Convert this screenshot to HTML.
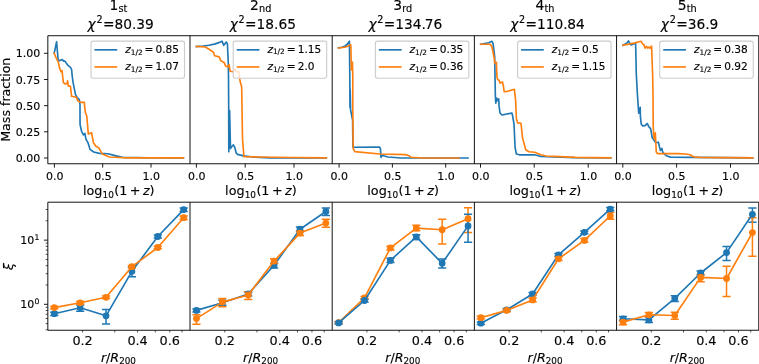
<!DOCTYPE html>
<html><head><meta charset="utf-8"><title>Mass fraction and correlation panels</title>
<style>html,body{margin:0;padding:0;background:#fff}svg{display:block}text{stroke:#000;stroke-width:.14px;paint-order:stroke}</style></head>
<body>
<svg width="759" height="364" viewBox="0 0 759 364" font-family="'DejaVu Sans', 'Liberation Sans', sans-serif" stroke-linejoin="round">
<rect width="759" height="364" fill="#fff"/>
<clipPath id="ct0"><rect x="47.83" y="35.73" width="142.19" height="128.03"/></clipPath>
<g clip-path="url(#ct0)">
<path d="M54.20 53.30 L56.60 41.70 L58.10 59.60 L59.50 60.70 L62.30 59.60 L63.40 61.10 L65.00 61.10 L66.10 62.90 L68.30 65.70 L70.50 67.30 L71.60 69.50 L72.20 76.00 L73.10 82.60 L75.50 94.70 L77.10 97.40 L79.30 99.60 L80.00 104.60 L80.00 116.00 L80.10 124.90 L81.60 131.30 L83.40 134.90 L84.90 133.40 L85.90 139.10 L88.00 142.70 L90.10 149.40 L93.70 152.00 L99.40 153.40 L108.00 153.70 L115.10 155.60 L122.30 157.40 L148.00 157.80 L183.40 157.90" fill="none" stroke="#1f77b4" stroke-width="1.65" stroke-linejoin="round" stroke-linecap="square" />
<path d="M54.20 53.30 L56.20 58.00 L58.40 62.40 L59.50 67.90 L61.00 71.70 L62.10 70.60 L62.60 76.00 L63.40 82.60 L65.00 83.90 L66.90 83.70 L67.60 80.90 L68.30 85.90 L70.50 86.40 L71.60 96.30 L76.60 97.40 L77.70 100.70 L81.00 102.40 L84.30 102.40 L85.30 112.20 L86.80 116.20 L88.30 134.10 L91.60 132.70 L93.40 142.70 L95.90 146.30 L98.70 147.70 L102.30 154.10 L109.40 157.00 L125.00 157.80 L183.40 157.90" fill="none" stroke="#ff7f0e" stroke-width="1.65" stroke-linejoin="round" stroke-linecap="square" />
</g>
<path d="M54.40 163.76 v3.85" stroke="#000" stroke-width="0.90"/>
<path d="M102.70 163.76 v3.85" stroke="#000" stroke-width="0.90"/>
<path d="M151.00 163.76 v3.85" stroke="#000" stroke-width="0.90"/>
<text x="54.65" y="179.60" font-size="11.00" text-anchor="middle">0.0</text>
<text x="102.95" y="179.60" font-size="11.00" text-anchor="middle">0.5</text>
<text x="151.25" y="179.60" font-size="11.00" text-anchor="middle">1.0</text>
<rect x="91.01" y="41.10" width="93.50" height="37.20" rx="2.2" fill="#fff" fill-opacity="0.8" stroke="#ccc" stroke-width="1.1"/>
<path d="M95.31 49.85 H116.41" stroke="#1f77b4" stroke-width="1.65" stroke-linecap="square"/>
<text transform="translate(125.21 53.60)" fill="#000"><tspan x="0.00" y="-0.83" style="font-size:10.55px;font-style:italic">z</tspan><tspan x="5.51" y="0.98" style="font-size:7.38px">1/2</tspan><tspan x="19.42" y="-0.83" style="font-size:10.55px">=</tspan><tspan x="30.27" y="-0.83" style="font-size:10.55px">0.85</tspan></text>
<path d="M95.31 66.95 H116.41" stroke="#ff7f0e" stroke-width="1.65" stroke-linecap="square"/>
<text transform="translate(125.21 70.70)" fill="#000"><tspan x="0.00" y="-0.83" style="font-size:10.55px;font-style:italic">z</tspan><tspan x="5.51" y="0.98" style="font-size:7.38px">1/2</tspan><tspan x="19.42" y="-0.83" style="font-size:10.55px">=</tspan><tspan x="30.27" y="-0.83" style="font-size:10.55px">1.07</tspan></text>
<text transform="translate(118.92 10.70)" fill="#000"><tspan x="-9.50" y="-0.80" style="font-size:13.90px">1</tspan><tspan x="-0.54" y="1.50" style="font-size:9.73px">st</tspan></text>
<text transform="translate(121.12 29.00)" fill="#000"><tspan x="-33.50" y="-0.37" style="font-size:13.75px;font-style:italic">χ</tspan><tspan x="-24.74" y="-5.73" style="font-size:9.62px">2</tspan><tspan x="-18.23" y="-0.37" style="font-size:13.75px">=80.39</tspan></text>
<text transform="translate(118.92 195.50)" fill="#000"><tspan x="-36.00" y="-0.12" style="font-size:12.75px">log</tspan><tspan x="-16.44" y="2.01" style="font-size:8.92px">10</tspan><tspan x="-4.73" y="-0.12" style="font-size:12.75px">(1</tspan><tspan x="10.84" y="-0.12" style="font-size:12.75px">+</tspan><tspan x="24.01" y="-0.12" style="font-size:12.75px;font-style:italic">z</tspan><tspan x="30.70" y="-0.12" style="font-size:12.75px">)</tspan></text>
<clipPath id="ct1"><rect x="190.01" y="35.73" width="142.19" height="128.03"/></clipPath>
<g clip-path="url(#ct1)">
<path d="M196.40 46.50 L203.00 46.00 L209.00 45.20 L215.30 43.90 L219.50 42.40 L222.00 41.20 L223.80 45.30 L226.30 42.00 L227.40 43.70 L228.20 61.30 L228.50 76.00 L228.70 110.70 L228.80 151.80 L229.60 110.50 L230.50 148.60 L231.80 146.50 L233.40 144.90 L234.80 147.50 L236.20 153.00 L237.50 154.40 L243.50 155.90 L255.00 157.30 L270.00 157.90 L290.00 158.00 L326.30 158.00" fill="none" stroke="#1f77b4" stroke-width="1.65" stroke-linejoin="round" stroke-linecap="square" />
<path d="M196.40 46.40 L205.40 47.00 L209.80 49.70 L213.60 52.50 L214.70 55.80 L219.10 56.90 L220.80 60.70 L224.10 62.40 L225.70 66.20 L227.90 66.80 L229.00 64.60 L230.10 71.20 L233.40 71.70 L235.00 69.00 L236.20 71.70 L238.90 71.70 L239.40 76.00 L239.90 80.50 L241.70 87.10 L242.00 108.00 L242.50 138.80 L243.90 156.60 L260.00 157.00 L290.00 157.50 L326.30 157.90" fill="none" stroke="#ff7f0e" stroke-width="1.65" stroke-linejoin="round" stroke-linecap="square" />
</g>
<path d="M196.40 163.76 v3.85" stroke="#000" stroke-width="0.90"/>
<path d="M245.20 163.76 v3.85" stroke="#000" stroke-width="0.90"/>
<path d="M294.00 163.76 v3.85" stroke="#000" stroke-width="0.90"/>
<text x="196.65" y="179.60" font-size="11.00" text-anchor="middle">0.0</text>
<text x="245.45" y="179.60" font-size="11.00" text-anchor="middle">0.5</text>
<text x="294.25" y="179.60" font-size="11.00" text-anchor="middle">1.0</text>
<rect x="233.20" y="41.10" width="93.50" height="37.20" rx="2.2" fill="#fff" fill-opacity="0.8" stroke="#ccc" stroke-width="1.1"/>
<path d="M237.50 49.85 H258.60" stroke="#1f77b4" stroke-width="1.65" stroke-linecap="square"/>
<text transform="translate(267.40 53.60)" fill="#000"><tspan x="0.00" y="-0.98" style="font-size:10.55px;font-style:italic">z</tspan><tspan x="5.51" y="0.82" style="font-size:7.38px">1/2</tspan><tspan x="19.42" y="-0.98" style="font-size:10.55px">=</tspan><tspan x="30.27" y="-0.98" style="font-size:10.55px">1.15</tspan></text>
<path d="M237.50 66.95 H258.60" stroke="#ff7f0e" stroke-width="1.65" stroke-linecap="square"/>
<text transform="translate(267.40 70.70)" fill="#000"><tspan x="0.00" y="-0.83" style="font-size:10.55px;font-style:italic">z</tspan><tspan x="5.51" y="0.98" style="font-size:7.38px">1/2</tspan><tspan x="19.42" y="-0.83" style="font-size:10.55px">=</tspan><tspan x="30.27" y="-0.83" style="font-size:10.55px">2.0</tspan></text>
<text transform="translate(261.11 10.70)" fill="#000"><tspan x="-11.00" y="-0.61" style="font-size:13.90px">2</tspan><tspan x="-2.04" y="1.69" style="font-size:9.73px">nd</tspan></text>
<text transform="translate(263.31 29.00)" fill="#000"><tspan x="-33.50" y="-0.37" style="font-size:13.75px;font-style:italic">χ</tspan><tspan x="-24.74" y="-5.73" style="font-size:9.62px">2</tspan><tspan x="-18.23" y="-0.37" style="font-size:13.75px">=18.65</tspan></text>
<text transform="translate(261.11 195.50)" fill="#000"><tspan x="-36.00" y="-0.12" style="font-size:12.75px">log</tspan><tspan x="-16.44" y="2.01" style="font-size:8.92px">10</tspan><tspan x="-4.73" y="-0.12" style="font-size:12.75px">(1</tspan><tspan x="10.84" y="-0.12" style="font-size:12.75px">+</tspan><tspan x="24.01" y="-0.12" style="font-size:12.75px;font-style:italic">z</tspan><tspan x="30.70" y="-0.12" style="font-size:12.75px">)</tspan></text>
<clipPath id="ct2"><rect x="332.20" y="35.73" width="142.19" height="128.03"/></clipPath>
<g clip-path="url(#ct2)">
<path d="M338.50 47.90 L342.00 47.20 L345.00 46.00 L347.50 44.00 L349.40 41.20 L349.80 76.00 L350.00 107.40 L350.20 90.00 L350.60 110.00 L352.60 120.00 L352.90 147.20 L379.40 147.00 L380.40 148.50 L381.00 157.40 L382.80 154.80 L383.40 155.80 L388.00 157.00 L400.90 158.00 L468.00 158.00" fill="none" stroke="#1f77b4" stroke-width="1.65" stroke-linejoin="round" stroke-linecap="square" />
<path d="M338.50 48.10 L345.90 47.00 L350.80 44.80 L351.40 70.00 L352.40 62.00 L352.80 76.00 L352.80 110.00 L353.20 148.50 L354.80 151.60 L380.00 154.00 L405.50 154.60 L409.20 155.80 L411.00 157.30 L423.00 158.00 L459.00 158.00" fill="none" stroke="#ff7f0e" stroke-width="1.65" stroke-linejoin="round" stroke-linecap="square" />
</g>
<path d="M339.10 163.76 v3.85" stroke="#000" stroke-width="0.90"/>
<path d="M392.40 163.76 v3.85" stroke="#000" stroke-width="0.90"/>
<path d="M445.70 163.76 v3.85" stroke="#000" stroke-width="0.90"/>
<text x="339.35" y="179.60" font-size="11.00" text-anchor="middle">0.0</text>
<text x="392.65" y="179.60" font-size="11.00" text-anchor="middle">0.5</text>
<text x="445.95" y="179.60" font-size="11.00" text-anchor="middle">1.0</text>
<rect x="375.38" y="41.10" width="93.50" height="37.20" rx="2.2" fill="#fff" fill-opacity="0.8" stroke="#ccc" stroke-width="1.1"/>
<path d="M379.69 49.85 H400.79" stroke="#1f77b4" stroke-width="1.65" stroke-linecap="square"/>
<text transform="translate(409.58 53.60)" fill="#000"><tspan x="0.00" y="-0.83" style="font-size:10.55px;font-style:italic">z</tspan><tspan x="5.51" y="0.98" style="font-size:7.38px">1/2</tspan><tspan x="19.42" y="-0.83" style="font-size:10.55px">=</tspan><tspan x="30.27" y="-0.83" style="font-size:10.55px">0.35</tspan></text>
<path d="M379.69 66.95 H400.79" stroke="#ff7f0e" stroke-width="1.65" stroke-linecap="square"/>
<text transform="translate(409.58 70.70)" fill="#000"><tspan x="0.00" y="-0.83" style="font-size:10.55px;font-style:italic">z</tspan><tspan x="5.51" y="0.98" style="font-size:7.38px">1/2</tspan><tspan x="19.42" y="-0.83" style="font-size:10.55px">=</tspan><tspan x="30.27" y="-0.83" style="font-size:10.55px">0.36</tspan></text>
<text transform="translate(403.29 10.70)" fill="#000"><tspan x="-10.00" y="-0.61" style="font-size:13.90px">3</tspan><tspan x="-1.04" y="1.69" style="font-size:9.73px">rd</tspan></text>
<text transform="translate(405.49 29.00)" fill="#000"><tspan x="-37.00" y="-0.37" style="font-size:13.75px;font-style:italic">χ</tspan><tspan x="-28.24" y="-5.73" style="font-size:9.62px">2</tspan><tspan x="-21.73" y="-0.37" style="font-size:13.75px">=134.</tspan><tspan x="19.28" y="-0.37" style="font-size:13.75px">76</tspan></text>
<text transform="translate(403.29 195.50)" fill="#000"><tspan x="-36.00" y="-0.12" style="font-size:12.75px">log</tspan><tspan x="-16.44" y="2.01" style="font-size:8.92px">10</tspan><tspan x="-4.73" y="-0.12" style="font-size:12.75px">(1</tspan><tspan x="10.84" y="-0.12" style="font-size:12.75px">+</tspan><tspan x="24.01" y="-0.12" style="font-size:12.75px;font-style:italic">z</tspan><tspan x="30.70" y="-0.12" style="font-size:12.75px">)</tspan></text>
<clipPath id="ct3"><rect x="474.38" y="35.73" width="142.19" height="128.03"/></clipPath>
<g clip-path="url(#ct3)">
<path d="M480.70 44.20 L488.70 42.80 L492.00 41.30 L493.10 43.70 L494.70 56.90 L495.00 76.00 L495.40 96.70 L495.80 103.10 L496.70 98.10 L497.50 100.60 L498.70 98.90 L499.10 106.40 L500.00 113.00 L502.00 115.00 L511.90 113.00 L512.70 116.30 L514.00 124.00 L515.10 147.70 L516.40 154.00 L519.40 154.80 L534.60 154.80 L540.90 156.50 L554.00 156.90 L575.00 157.60 L610.70 157.90" fill="none" stroke="#1f77b4" stroke-width="1.65" stroke-linejoin="round" stroke-linecap="square" />
<path d="M480.70 44.20 L490.30 44.20 L492.00 47.00 L494.20 58.00 L494.70 62.90 L496.40 62.40 L496.90 76.00 L497.50 79.40 L499.10 80.20 L500.00 83.10 L502.40 81.90 L503.30 85.20 L504.10 91.40 L505.70 91.80 L514.40 89.30 L515.20 96.70 L515.60 99.80 L516.40 118.70 L517.70 122.90 L521.00 123.30 L522.50 137.60 L525.70 149.70 L529.00 151.70 L534.60 152.30 L540.90 154.80 L545.90 156.00 L554.00 156.40 L575.00 157.40 L610.70 157.90" fill="none" stroke="#ff7f0e" stroke-width="1.65" stroke-linejoin="round" stroke-linecap="square" />
</g>
<path d="M480.50 163.76 v3.85" stroke="#000" stroke-width="0.90"/>
<path d="M534.20 163.76 v3.85" stroke="#000" stroke-width="0.90"/>
<path d="M588.20 163.76 v3.85" stroke="#000" stroke-width="0.90"/>
<text x="480.75" y="179.60" font-size="11.00" text-anchor="middle">0.0</text>
<text x="534.45" y="179.60" font-size="11.00" text-anchor="middle">0.5</text>
<text x="588.45" y="179.60" font-size="11.00" text-anchor="middle">1.0</text>
<rect x="517.57" y="41.10" width="93.50" height="37.20" rx="2.2" fill="#fff" fill-opacity="0.8" stroke="#ccc" stroke-width="1.1"/>
<path d="M521.87 49.85 H542.97" stroke="#1f77b4" stroke-width="1.65" stroke-linecap="square"/>
<text transform="translate(551.77 53.60)" fill="#000"><tspan x="0.00" y="-0.83" style="font-size:10.55px;font-style:italic">z</tspan><tspan x="5.51" y="0.98" style="font-size:7.38px">1/2</tspan><tspan x="19.42" y="-0.83" style="font-size:10.55px">=</tspan><tspan x="30.27" y="-0.83" style="font-size:10.55px">0.5</tspan></text>
<path d="M521.87 66.95 H542.97" stroke="#ff7f0e" stroke-width="1.65" stroke-linecap="square"/>
<text transform="translate(551.77 70.70)" fill="#000"><tspan x="0.00" y="-0.98" style="font-size:10.55px;font-style:italic">z</tspan><tspan x="5.51" y="0.82" style="font-size:7.38px">1/2</tspan><tspan x="19.42" y="-0.98" style="font-size:10.55px">=</tspan><tspan x="30.27" y="-0.98" style="font-size:10.55px">1.15</tspan></text>
<text transform="translate(545.48 10.70)" fill="#000"><tspan x="-10.00" y="-0.80" style="font-size:13.90px">4</tspan><tspan x="-1.04" y="1.50" style="font-size:9.73px">th</tspan></text>
<text transform="translate(547.68 29.00)" fill="#000"><tspan x="-37.50" y="-0.37" style="font-size:13.75px;font-style:italic">χ</tspan><tspan x="-28.74" y="-5.73" style="font-size:9.62px">2</tspan><tspan x="-22.23" y="-0.37" style="font-size:13.75px">=110.</tspan><tspan x="19.53" y="-0.37" style="font-size:13.75px">84</tspan></text>
<text transform="translate(545.48 195.50)" fill="#000"><tspan x="-36.00" y="-0.12" style="font-size:12.75px">log</tspan><tspan x="-16.44" y="2.01" style="font-size:8.92px">10</tspan><tspan x="-4.73" y="-0.12" style="font-size:12.75px">(1</tspan><tspan x="10.84" y="-0.12" style="font-size:12.75px">+</tspan><tspan x="24.01" y="-0.12" style="font-size:12.75px;font-style:italic">z</tspan><tspan x="30.70" y="-0.12" style="font-size:12.75px">)</tspan></text>
<clipPath id="ct4"><rect x="616.57" y="35.73" width="142.18" height="128.03"/></clipPath>
<g clip-path="url(#ct4)">
<path d="M622.90 45.30 L626.80 43.10 L628.50 40.90 L630.10 44.20 L631.20 45.00 L634.00 43.70 L635.60 42.80 L636.20 69.00 L636.20 72.00 L637.20 91.00 L637.80 100.00 L638.70 113.20 L640.20 107.40 L640.40 116.50 L641.20 123.90 L642.80 126.00 L644.90 125.60 L647.40 123.50 L648.60 126.40 L650.60 128.60 L652.20 137.50 L654.30 140.60 L655.80 142.70 L658.40 142.20 L659.50 146.90 L660.50 150.50 L661.90 148.40 L662.90 152.60 L666.30 155.70 L670.40 157.10 L692.30 157.40 L752.70 157.90" fill="none" stroke="#1f77b4" stroke-width="1.65" stroke-linejoin="round" stroke-linecap="square" />
<path d="M622.90 45.30 L634.00 43.10 L641.10 41.30 L642.80 44.20 L643.90 44.60 L645.00 48.10 L646.60 46.40 L647.70 48.10 L648.80 47.00 L649.90 48.30 L651.60 46.10 L652.40 69.00 L652.70 76.00 L653.10 102.00 L653.20 126.00 L653.50 132.30 L654.30 139.00 L655.30 132.80 L655.80 142.70 L656.30 152.10 L657.40 153.60 L677.70 153.60 L685.00 154.00 L690.20 154.70 L693.40 156.80 L698.60 157.40 L752.70 157.90" fill="none" stroke="#ff7f0e" stroke-width="1.65" stroke-linejoin="round" stroke-linecap="square" />
</g>
<path d="M622.80 163.76 v3.85" stroke="#000" stroke-width="0.90"/>
<path d="M676.60 163.76 v3.85" stroke="#000" stroke-width="0.90"/>
<path d="M730.50 163.76 v3.85" stroke="#000" stroke-width="0.90"/>
<text x="623.05" y="179.60" font-size="11.00" text-anchor="middle">0.0</text>
<text x="676.85" y="179.60" font-size="11.00" text-anchor="middle">0.5</text>
<text x="730.75" y="179.60" font-size="11.00" text-anchor="middle">1.0</text>
<rect x="659.75" y="41.10" width="93.50" height="37.20" rx="2.2" fill="#fff" fill-opacity="0.8" stroke="#ccc" stroke-width="1.1"/>
<path d="M664.05 49.85 H685.15" stroke="#1f77b4" stroke-width="1.65" stroke-linecap="square"/>
<text transform="translate(693.96 53.60)" fill="#000"><tspan x="0.00" y="-0.83" style="font-size:10.55px;font-style:italic">z</tspan><tspan x="5.51" y="0.98" style="font-size:7.38px">1/2</tspan><tspan x="19.42" y="-0.83" style="font-size:10.55px">=</tspan><tspan x="30.27" y="-0.83" style="font-size:10.55px">0.38</tspan></text>
<path d="M664.05 66.95 H685.15" stroke="#ff7f0e" stroke-width="1.65" stroke-linecap="square"/>
<text transform="translate(693.96 70.70)" fill="#000"><tspan x="0.00" y="-0.83" style="font-size:10.55px;font-style:italic">z</tspan><tspan x="5.51" y="0.98" style="font-size:7.38px">1/2</tspan><tspan x="19.42" y="-0.83" style="font-size:10.55px">=</tspan><tspan x="30.27" y="-0.83" style="font-size:10.55px">0.92</tspan></text>
<text transform="translate(687.66 10.70)" fill="#000"><tspan x="-10.00" y="-0.80" style="font-size:13.90px">5</tspan><tspan x="-1.04" y="1.50" style="font-size:9.73px">th</tspan></text>
<text transform="translate(689.86 29.00)" fill="#000"><tspan x="-29.00" y="-0.37" style="font-size:13.75px;font-style:italic">χ</tspan><tspan x="-20.24" y="-5.73" style="font-size:9.62px">2</tspan><tspan x="-13.73" y="-0.37" style="font-size:13.75px">=36.9</tspan></text>
<text transform="translate(687.66 195.50)" fill="#000"><tspan x="-36.00" y="-0.12" style="font-size:12.75px">log</tspan><tspan x="-16.44" y="2.01" style="font-size:8.92px">10</tspan><tspan x="-4.73" y="-0.12" style="font-size:12.75px">(1</tspan><tspan x="10.84" y="-0.12" style="font-size:12.75px">+</tspan><tspan x="24.01" y="-0.12" style="font-size:12.75px;font-style:italic">z</tspan><tspan x="30.70" y="-0.12" style="font-size:12.75px">)</tspan></text>
<path d="M47.83 53.30 h-3.85" stroke="#000" stroke-width="0.90"/>
<text x="40.30" y="57.35" font-size="11.00" text-anchor="end">1.00</text>
<path d="M47.83 79.50 h-3.85" stroke="#000" stroke-width="0.90"/>
<text x="40.30" y="83.55" font-size="11.00" text-anchor="end">0.75</text>
<path d="M47.83 105.65 h-3.85" stroke="#000" stroke-width="0.90"/>
<text x="40.30" y="109.70" font-size="11.00" text-anchor="end">0.50</text>
<path d="M47.83 131.80 h-3.85" stroke="#000" stroke-width="0.90"/>
<text x="40.30" y="135.85" font-size="11.00" text-anchor="end">0.25</text>
<path d="M47.83 158.00 h-3.85" stroke="#000" stroke-width="0.90"/>
<text x="40.30" y="162.05" font-size="11.00" text-anchor="end">0.00</text>
<text transform="translate(9.9 99.7) rotate(-90)" font-size="12.60" text-anchor="middle">Mass fraction</text>
<clipPath id="cb0"><rect x="47.83" y="202.20" width="142.19" height="128.05"/></clipPath>
<g clip-path="url(#cb0)">
<path d="M54.28 312.20 V315.50 M50.18 312.20 h8.20 M50.18 315.50 h8.20 M80.16 305.00 V311.20 M76.06 305.00 h8.20 M76.06 311.20 h8.20 M106.04 309.40 V324.00 M101.94 309.40 h8.20 M101.94 324.00 h8.20 M131.92 267.00 V276.80 M127.82 267.00 h8.20 M127.82 276.80 h8.20 M157.80 235.00 V238.00 M153.70 235.00 h8.20 M153.70 238.00 h8.20 M183.68 208.00 V211.50 M179.58 208.00 h8.20 M179.58 211.50 h8.20 " stroke="#1f77b4" stroke-width="1.50" fill="none"/>
<path d="M54.28 306.40 V308.80 M50.18 306.40 h8.20 M50.18 308.80 h8.20 M80.16 301.60 V304.00 M76.06 301.60 h8.20 M76.06 304.00 h8.20 M106.04 296.00 V298.60 M101.94 296.00 h8.20 M101.94 298.60 h8.20 M131.92 265.40 V268.00 M127.82 265.40 h8.20 M127.82 268.00 h8.20 M157.80 246.30 V248.70 M153.70 246.30 h8.20 M153.70 248.70 h8.20 M183.68 216.00 V219.50 M179.58 216.00 h8.20 M179.58 219.50 h8.20 " stroke="#ff7f0e" stroke-width="1.50" fill="none"/>
<path d="M54.28 313.70 L80.16 307.80 L106.04 315.80 L131.92 271.30 L157.80 236.50 L183.68 209.60" fill="none" stroke="#1f77b4" stroke-width="1.65" stroke-linejoin="round"/><circle cx="54.28" cy="313.70" r="2.85" fill="#1f77b4" stroke="#1f77b4" stroke-width="1.1"/><circle cx="80.16" cy="307.80" r="2.85" fill="#1f77b4" stroke="#1f77b4" stroke-width="1.1"/><circle cx="106.04" cy="315.80" r="2.85" fill="#1f77b4" stroke="#1f77b4" stroke-width="1.1"/><circle cx="131.92" cy="271.30" r="2.85" fill="#1f77b4" stroke="#1f77b4" stroke-width="1.1"/><circle cx="157.80" cy="236.50" r="2.85" fill="#1f77b4" stroke="#1f77b4" stroke-width="1.1"/><circle cx="183.68" cy="209.60" r="2.85" fill="#1f77b4" stroke="#1f77b4" stroke-width="1.1"/>
<path d="M54.28 307.60 L80.16 302.80 L106.04 297.30 L131.92 266.70 L157.80 247.50 L183.68 217.70" fill="none" stroke="#ff7f0e" stroke-width="1.65" stroke-linejoin="round"/><circle cx="54.28" cy="307.60" r="2.85" fill="#ff7f0e" stroke="#ff7f0e" stroke-width="1.1"/><circle cx="80.16" cy="302.80" r="2.85" fill="#ff7f0e" stroke="#ff7f0e" stroke-width="1.1"/><circle cx="106.04" cy="297.30" r="2.85" fill="#ff7f0e" stroke="#ff7f0e" stroke-width="1.1"/><circle cx="131.92" cy="266.70" r="2.85" fill="#ff7f0e" stroke="#ff7f0e" stroke-width="1.1"/><circle cx="157.80" cy="247.50" r="2.85" fill="#ff7f0e" stroke="#ff7f0e" stroke-width="1.1"/><circle cx="183.68" cy="217.70" r="2.85" fill="#ff7f0e" stroke="#ff7f0e" stroke-width="1.1"/>
</g>
<path d="M82.58 330.25 v2.20" stroke="#000" stroke-width="0.68"/>
<text x="82.58" y="345.40" font-size="12.80" text-anchor="middle">0.2</text>
<path d="M114.75 330.25 v2.20" stroke="#000" stroke-width="0.68"/>
<path d="M137.58 330.25 v2.20" stroke="#000" stroke-width="0.68"/>
<text x="137.58" y="345.40" font-size="12.80" text-anchor="middle">0.4</text>
<path d="M155.28 330.25 v2.20" stroke="#000" stroke-width="0.68"/>
<path d="M169.75 330.25 v2.20" stroke="#000" stroke-width="0.68"/>
<text x="169.75" y="345.40" font-size="12.80" text-anchor="middle">0.6</text>
<path d="M181.98 330.25 v2.20" stroke="#000" stroke-width="0.68"/>
<text transform="translate(118.92 362.20)" fill="#000"><tspan x="-18.00" y="-0.52" style="font-size:12.60px;font-style:italic">r</tspan><tspan x="-12.81" y="-0.52" style="font-size:12.60px">/</tspan><tspan x="-8.56" y="-0.52" style="font-size:12.60px;font-style:italic">R</tspan><tspan x="0.22" y="1.62" style="font-size:8.82px">200</tspan></text>
<clipPath id="cb1"><rect x="190.01" y="202.20" width="142.19" height="128.05"/></clipPath>
<g clip-path="url(#cb1)">
<path d="M196.46 308.90 V311.90 M192.36 308.90 h8.20 M192.36 311.90 h8.20 M222.34 300.20 V305.20 M218.24 300.20 h8.20 M218.24 305.20 h8.20 M248.22 292.00 V296.00 M244.12 292.00 h8.20 M244.12 296.00 h8.20 M274.11 263.20 V268.00 M270.00 263.20 h8.20 M270.00 268.00 h8.20 M299.99 226.90 V231.70 M295.88 226.90 h8.20 M295.88 231.70 h8.20 M325.87 208.10 V215.40 M321.76 208.10 h8.20 M321.76 215.40 h8.20 " stroke="#1f77b4" stroke-width="1.50" fill="none"/>
<path d="M196.46 314.80 V324.30 M192.36 314.80 h8.20 M192.36 324.30 h8.20 M222.34 298.40 V306.70 M218.24 298.40 h8.20 M218.24 306.70 h8.20 M248.22 291.80 V299.50 M244.12 291.80 h8.20 M244.12 299.50 h8.20 M274.11 258.80 V263.60 M270.00 258.80 h8.20 M270.00 263.60 h8.20 M299.99 230.80 V235.60 M295.88 230.80 h8.20 M295.88 235.60 h8.20 M325.87 219.20 V227.30 M321.76 219.20 h8.20 M321.76 227.30 h8.20 " stroke="#ff7f0e" stroke-width="1.50" fill="none"/>
<path d="M196.46 310.40 L222.34 302.70 L248.22 294.00 L274.11 265.20 L299.99 229.20 L325.87 211.50" fill="none" stroke="#1f77b4" stroke-width="1.65" stroke-linejoin="round"/><circle cx="196.46" cy="310.40" r="2.85" fill="#1f77b4" stroke="#1f77b4" stroke-width="1.1"/><circle cx="222.34" cy="302.70" r="2.85" fill="#1f77b4" stroke="#1f77b4" stroke-width="1.1"/><circle cx="248.22" cy="294.00" r="2.85" fill="#1f77b4" stroke="#1f77b4" stroke-width="1.1"/><circle cx="274.11" cy="265.20" r="2.85" fill="#1f77b4" stroke="#1f77b4" stroke-width="1.1"/><circle cx="299.99" cy="229.20" r="2.85" fill="#1f77b4" stroke="#1f77b4" stroke-width="1.1"/><circle cx="325.87" cy="211.50" r="2.85" fill="#1f77b4" stroke="#1f77b4" stroke-width="1.1"/>
<path d="M196.46 318.60 L222.34 302.10 L248.22 295.00 L274.11 261.10 L299.99 233.10 L325.87 223.10" fill="none" stroke="#ff7f0e" stroke-width="1.65" stroke-linejoin="round"/><circle cx="196.46" cy="318.60" r="2.85" fill="#ff7f0e" stroke="#ff7f0e" stroke-width="1.1"/><circle cx="222.34" cy="302.10" r="2.85" fill="#ff7f0e" stroke="#ff7f0e" stroke-width="1.1"/><circle cx="248.22" cy="295.00" r="2.85" fill="#ff7f0e" stroke="#ff7f0e" stroke-width="1.1"/><circle cx="274.11" cy="261.10" r="2.85" fill="#ff7f0e" stroke="#ff7f0e" stroke-width="1.1"/><circle cx="299.99" cy="233.10" r="2.85" fill="#ff7f0e" stroke="#ff7f0e" stroke-width="1.1"/><circle cx="325.87" cy="223.10" r="2.85" fill="#ff7f0e" stroke="#ff7f0e" stroke-width="1.1"/>
</g>
<path d="M224.76 330.25 v2.20" stroke="#000" stroke-width="0.68"/>
<text x="224.76" y="345.40" font-size="12.80" text-anchor="middle">0.2</text>
<path d="M256.94 330.25 v2.20" stroke="#000" stroke-width="0.68"/>
<path d="M279.76 330.25 v2.20" stroke="#000" stroke-width="0.68"/>
<text x="279.76" y="345.40" font-size="12.80" text-anchor="middle">0.4</text>
<path d="M297.47 330.25 v2.20" stroke="#000" stroke-width="0.68"/>
<path d="M311.94 330.25 v2.20" stroke="#000" stroke-width="0.68"/>
<text x="311.94" y="345.40" font-size="12.80" text-anchor="middle">0.6</text>
<path d="M324.17 330.25 v2.20" stroke="#000" stroke-width="0.68"/>
<text transform="translate(261.11 362.20)" fill="#000"><tspan x="-18.00" y="-0.52" style="font-size:12.60px;font-style:italic">r</tspan><tspan x="-12.81" y="-0.52" style="font-size:12.60px">/</tspan><tspan x="-8.56" y="-0.52" style="font-size:12.60px;font-style:italic">R</tspan><tspan x="0.22" y="1.62" style="font-size:8.82px">200</tspan></text>
<clipPath id="cb2"><rect x="332.20" y="202.20" width="142.19" height="128.05"/></clipPath>
<g clip-path="url(#cb2)">
<path d="M338.65 321.60 V323.60 M334.55 321.60 h8.20 M334.55 323.60 h8.20 M364.53 296.60 V299.20 M360.43 296.60 h8.20 M360.43 299.20 h8.20 M390.41 246.20 V250.10 M386.31 246.20 h8.20 M386.31 250.10 h8.20 M416.29 225.30 V230.80 M412.19 225.30 h8.20 M412.19 230.80 h8.20 M442.17 219.30 V244.00 M438.07 219.30 h8.20 M438.07 244.00 h8.20 M468.05 207.70 V232.50 M463.95 207.70 h8.20 M463.95 232.50 h8.20 " stroke="#ff7f0e" stroke-width="1.50" fill="none"/>
<path d="M338.65 321.80 V324.00 M334.55 321.80 h8.20 M334.55 324.00 h8.20 M364.53 299.00 V302.00 M360.43 299.00 h8.20 M360.43 302.00 h8.20 M390.41 258.20 V262.60 M386.31 258.20 h8.20 M386.31 262.60 h8.20 M416.29 234.70 V239.60 M412.19 234.70 h8.20 M412.19 239.60 h8.20 M442.17 258.90 V268.10 M438.07 258.90 h8.20 M438.07 268.10 h8.20 M468.05 214.30 V242.20 M463.95 214.30 h8.20 M463.95 242.20 h8.20 " stroke="#1f77b4" stroke-width="1.50" fill="none"/>
<path d="M338.65 322.60 L364.53 297.90 L390.41 247.90 L416.29 228.10 L442.17 229.70 L468.05 218.70" fill="none" stroke="#ff7f0e" stroke-width="1.65" stroke-linejoin="round"/><circle cx="338.65" cy="322.60" r="2.85" fill="#ff7f0e" stroke="#ff7f0e" stroke-width="1.1"/><circle cx="364.53" cy="297.90" r="2.85" fill="#ff7f0e" stroke="#ff7f0e" stroke-width="1.1"/><circle cx="390.41" cy="247.90" r="2.85" fill="#ff7f0e" stroke="#ff7f0e" stroke-width="1.1"/><circle cx="416.29" cy="228.10" r="2.85" fill="#ff7f0e" stroke="#ff7f0e" stroke-width="1.1"/><circle cx="442.17" cy="229.70" r="2.85" fill="#ff7f0e" stroke="#ff7f0e" stroke-width="1.1"/><circle cx="468.05" cy="218.70" r="2.85" fill="#ff7f0e" stroke="#ff7f0e" stroke-width="1.1"/>
<path d="M338.65 322.90 L364.53 300.50 L390.41 260.40 L416.29 236.90 L442.17 263.30 L468.05 225.90" fill="none" stroke="#1f77b4" stroke-width="1.65" stroke-linejoin="round"/><circle cx="338.65" cy="322.90" r="2.85" fill="#1f77b4" stroke="#1f77b4" stroke-width="1.1"/><circle cx="364.53" cy="300.50" r="2.85" fill="#1f77b4" stroke="#1f77b4" stroke-width="1.1"/><circle cx="390.41" cy="260.40" r="2.85" fill="#1f77b4" stroke="#1f77b4" stroke-width="1.1"/><circle cx="416.29" cy="236.90" r="2.85" fill="#1f77b4" stroke="#1f77b4" stroke-width="1.1"/><circle cx="442.17" cy="263.30" r="2.85" fill="#1f77b4" stroke="#1f77b4" stroke-width="1.1"/><circle cx="468.05" cy="225.90" r="2.85" fill="#1f77b4" stroke="#1f77b4" stroke-width="1.1"/>
</g>
<path d="M366.95 330.25 v2.20" stroke="#000" stroke-width="0.68"/>
<text x="366.95" y="345.40" font-size="12.80" text-anchor="middle">0.2</text>
<path d="M399.12 330.25 v2.20" stroke="#000" stroke-width="0.68"/>
<path d="M421.95 330.25 v2.20" stroke="#000" stroke-width="0.68"/>
<text x="421.95" y="345.40" font-size="12.80" text-anchor="middle">0.4</text>
<path d="M439.65 330.25 v2.20" stroke="#000" stroke-width="0.68"/>
<path d="M454.12 330.25 v2.20" stroke="#000" stroke-width="0.68"/>
<text x="454.12" y="345.40" font-size="12.80" text-anchor="middle">0.6</text>
<path d="M466.35 330.25 v2.20" stroke="#000" stroke-width="0.68"/>
<text transform="translate(403.29 362.20)" fill="#000"><tspan x="-18.00" y="-0.52" style="font-size:12.60px;font-style:italic">r</tspan><tspan x="-12.81" y="-0.52" style="font-size:12.60px">/</tspan><tspan x="-8.56" y="-0.52" style="font-size:12.60px;font-style:italic">R</tspan><tspan x="0.22" y="1.62" style="font-size:8.82px">200</tspan></text>
<clipPath id="cb3"><rect x="474.38" y="202.20" width="142.19" height="128.05"/></clipPath>
<g clip-path="url(#cb3)">
<path d="M480.83 322.00 V324.40 M476.73 322.00 h8.20 M476.73 324.40 h8.20 M506.71 308.60 V311.00 M502.61 308.60 h8.20 M502.61 311.00 h8.20 M532.60 292.60 V295.40 M528.50 292.60 h8.20 M528.50 295.40 h8.20 M558.48 253.40 V256.20 M554.38 253.40 h8.20 M554.38 256.20 h8.20 M584.36 230.90 V233.70 M580.25 230.90 h8.20 M580.25 233.70 h8.20 M610.24 207.60 V210.80 M606.13 207.60 h8.20 M606.13 210.80 h8.20 " stroke="#1f77b4" stroke-width="1.50" fill="none"/>
<path d="M480.83 316.30 V319.10 M476.73 316.30 h8.20 M476.73 319.10 h8.20 M506.71 309.00 V311.80 M502.61 309.00 h8.20 M502.61 311.80 h8.20 M532.60 298.00 V301.80 M528.50 298.00 h8.20 M528.50 301.80 h8.20 M558.48 257.00 V260.60 M554.38 257.00 h8.20 M554.38 260.60 h8.20 M584.36 238.60 V242.20 M580.25 238.60 h8.20 M580.25 242.20 h8.20 M610.24 212.50 V219.20 M606.13 212.50 h8.20 M606.13 219.20 h8.20 " stroke="#ff7f0e" stroke-width="1.50" fill="none"/>
<path d="M480.83 323.20 L506.71 309.80 L532.60 294.00 L558.48 254.80 L584.36 232.30 L610.24 209.20" fill="none" stroke="#1f77b4" stroke-width="1.65" stroke-linejoin="round"/><circle cx="480.83" cy="323.20" r="2.85" fill="#1f77b4" stroke="#1f77b4" stroke-width="1.1"/><circle cx="506.71" cy="309.80" r="2.85" fill="#1f77b4" stroke="#1f77b4" stroke-width="1.1"/><circle cx="532.60" cy="294.00" r="2.85" fill="#1f77b4" stroke="#1f77b4" stroke-width="1.1"/><circle cx="558.48" cy="254.80" r="2.85" fill="#1f77b4" stroke="#1f77b4" stroke-width="1.1"/><circle cx="584.36" cy="232.30" r="2.85" fill="#1f77b4" stroke="#1f77b4" stroke-width="1.1"/><circle cx="610.24" cy="209.20" r="2.85" fill="#1f77b4" stroke="#1f77b4" stroke-width="1.1"/>
<path d="M480.83 317.70 L506.71 310.40 L532.60 299.90 L558.48 258.80 L584.36 240.40 L610.24 216.00" fill="none" stroke="#ff7f0e" stroke-width="1.65" stroke-linejoin="round"/><circle cx="480.83" cy="317.70" r="2.85" fill="#ff7f0e" stroke="#ff7f0e" stroke-width="1.1"/><circle cx="506.71" cy="310.40" r="2.85" fill="#ff7f0e" stroke="#ff7f0e" stroke-width="1.1"/><circle cx="532.60" cy="299.90" r="2.85" fill="#ff7f0e" stroke="#ff7f0e" stroke-width="1.1"/><circle cx="558.48" cy="258.80" r="2.85" fill="#ff7f0e" stroke="#ff7f0e" stroke-width="1.1"/><circle cx="584.36" cy="240.40" r="2.85" fill="#ff7f0e" stroke="#ff7f0e" stroke-width="1.1"/><circle cx="610.24" cy="216.00" r="2.85" fill="#ff7f0e" stroke="#ff7f0e" stroke-width="1.1"/>
</g>
<path d="M509.13 330.25 v2.20" stroke="#000" stroke-width="0.68"/>
<text x="509.13" y="345.40" font-size="12.80" text-anchor="middle">0.2</text>
<path d="M541.31 330.25 v2.20" stroke="#000" stroke-width="0.68"/>
<path d="M564.13 330.25 v2.20" stroke="#000" stroke-width="0.68"/>
<text x="564.13" y="345.40" font-size="12.80" text-anchor="middle">0.4</text>
<path d="M581.84 330.25 v2.20" stroke="#000" stroke-width="0.68"/>
<path d="M596.31 330.25 v2.20" stroke="#000" stroke-width="0.68"/>
<text x="596.31" y="345.40" font-size="12.80" text-anchor="middle">0.6</text>
<path d="M608.54 330.25 v2.20" stroke="#000" stroke-width="0.68"/>
<text transform="translate(545.48 362.20)" fill="#000"><tspan x="-18.00" y="-0.52" style="font-size:12.60px;font-style:italic">r</tspan><tspan x="-12.81" y="-0.52" style="font-size:12.60px">/</tspan><tspan x="-8.56" y="-0.52" style="font-size:12.60px;font-style:italic">R</tspan><tspan x="0.22" y="1.62" style="font-size:8.82px">200</tspan></text>
<clipPath id="cb4"><rect x="616.57" y="202.20" width="142.18" height="128.05"/></clipPath>
<g clip-path="url(#cb4)">
<path d="M623.02 316.60 V320.80 M618.92 316.60 h8.20 M618.92 320.80 h8.20 M648.90 317.00 V322.50 M644.80 317.00 h8.20 M644.80 322.50 h8.20 M674.78 295.70 V301.60 M670.68 295.70 h8.20 M670.68 301.60 h8.20 M700.66 270.90 V274.80 M696.56 270.90 h8.20 M696.56 274.80 h8.20 M726.54 246.40 V260.50 M722.44 246.40 h8.20 M722.44 260.50 h8.20 M752.42 207.90 V222.20 M748.32 207.90 h8.20 M748.32 222.20 h8.20 " stroke="#1f77b4" stroke-width="1.50" fill="none"/>
<path d="M623.02 319.90 V324.70 M618.92 319.90 h8.20 M618.92 324.70 h8.20 M648.90 312.60 V317.00 M644.80 312.60 h8.20 M644.80 317.00 h8.20 M674.78 312.20 V319.20 M670.68 312.20 h8.20 M670.68 319.20 h8.20 M700.66 274.40 V281.80 M696.56 274.40 h8.20 M696.56 281.80 h8.20 M726.54 266.20 V296.50 M722.44 266.20 h8.20 M722.44 296.50 h8.20 M752.42 217.80 V256.30 M748.32 217.80 h8.20 M748.32 256.30 h8.20 " stroke="#ff7f0e" stroke-width="1.50" fill="none"/>
<path d="M623.02 318.80 L648.90 319.90 L674.78 298.40 L700.66 273.00 L726.54 252.60 L752.42 214.30" fill="none" stroke="#1f77b4" stroke-width="1.65" stroke-linejoin="round"/><circle cx="623.02" cy="318.80" r="2.85" fill="#1f77b4" stroke="#1f77b4" stroke-width="1.1"/><circle cx="648.90" cy="319.90" r="2.85" fill="#1f77b4" stroke="#1f77b4" stroke-width="1.1"/><circle cx="674.78" cy="298.40" r="2.85" fill="#1f77b4" stroke="#1f77b4" stroke-width="1.1"/><circle cx="700.66" cy="273.00" r="2.85" fill="#1f77b4" stroke="#1f77b4" stroke-width="1.1"/><circle cx="726.54" cy="252.60" r="2.85" fill="#1f77b4" stroke="#1f77b4" stroke-width="1.1"/><circle cx="752.42" cy="214.30" r="2.85" fill="#1f77b4" stroke="#1f77b4" stroke-width="1.1"/>
<path d="M623.02 322.10 L648.90 314.80 L674.78 315.50 L700.66 277.40 L726.54 278.50 L752.42 232.60" fill="none" stroke="#ff7f0e" stroke-width="1.65" stroke-linejoin="round"/><circle cx="623.02" cy="322.10" r="2.85" fill="#ff7f0e" stroke="#ff7f0e" stroke-width="1.1"/><circle cx="648.90" cy="314.80" r="2.85" fill="#ff7f0e" stroke="#ff7f0e" stroke-width="1.1"/><circle cx="674.78" cy="315.50" r="2.85" fill="#ff7f0e" stroke="#ff7f0e" stroke-width="1.1"/><circle cx="700.66" cy="277.40" r="2.85" fill="#ff7f0e" stroke="#ff7f0e" stroke-width="1.1"/><circle cx="726.54" cy="278.50" r="2.85" fill="#ff7f0e" stroke="#ff7f0e" stroke-width="1.1"/><circle cx="752.42" cy="232.60" r="2.85" fill="#ff7f0e" stroke="#ff7f0e" stroke-width="1.1"/>
</g>
<path d="M651.32 330.25 v2.20" stroke="#000" stroke-width="0.68"/>
<text x="651.32" y="345.40" font-size="12.80" text-anchor="middle">0.2</text>
<path d="M683.49 330.25 v2.20" stroke="#000" stroke-width="0.68"/>
<path d="M706.32 330.25 v2.20" stroke="#000" stroke-width="0.68"/>
<text x="706.32" y="345.40" font-size="12.80" text-anchor="middle">0.4</text>
<path d="M724.02 330.25 v2.20" stroke="#000" stroke-width="0.68"/>
<path d="M738.49 330.25 v2.20" stroke="#000" stroke-width="0.68"/>
<text x="738.49" y="345.40" font-size="12.80" text-anchor="middle">0.6</text>
<path d="M750.72 330.25 v2.20" stroke="#000" stroke-width="0.68"/>
<text transform="translate(687.66 362.20)" fill="#000"><tspan x="-18.00" y="-0.52" style="font-size:12.60px;font-style:italic">r</tspan><tspan x="-12.81" y="-0.52" style="font-size:12.60px">/</tspan><tspan x="-8.56" y="-0.52" style="font-size:12.60px;font-style:italic">R</tspan><tspan x="0.22" y="1.62" style="font-size:8.82px">200</tspan></text>
<path d="M47.83 304.30 h-3.85" stroke="#000" stroke-width="0.90"/>
<text transform="translate(40.30 308.30)" fill="#000"><tspan x="-20.00" y="-0.07" style="font-size:11.00px">10</tspan><tspan x="-5.90" y="-4.28" style="font-size:7.70px">0</tspan></text>
<path d="M47.83 240.13 h-3.85" stroke="#000" stroke-width="0.90"/>
<text transform="translate(40.30 244.13)" fill="#000"><tspan x="-20.00" y="-0.18" style="font-size:11.00px">10</tspan><tspan x="-5.90" y="-4.39" style="font-size:7.70px">1</tspan></text>
<path d="M47.83 329.84 h-2.20" stroke="#000" stroke-width="0.68"/>
<path d="M47.83 323.62 h-2.20" stroke="#000" stroke-width="0.68"/>
<path d="M47.83 318.54 h-2.20" stroke="#000" stroke-width="0.68"/>
<path d="M47.83 314.24 h-2.20" stroke="#000" stroke-width="0.68"/>
<path d="M47.83 310.52 h-2.20" stroke="#000" stroke-width="0.68"/>
<path d="M47.83 307.24 h-2.20" stroke="#000" stroke-width="0.68"/>
<path d="M47.83 284.98 h-2.20" stroke="#000" stroke-width="0.68"/>
<path d="M47.83 273.68 h-2.20" stroke="#000" stroke-width="0.68"/>
<path d="M47.83 265.67 h-2.20" stroke="#000" stroke-width="0.68"/>
<path d="M47.83 259.45 h-2.20" stroke="#000" stroke-width="0.68"/>
<path d="M47.83 254.37 h-2.20" stroke="#000" stroke-width="0.68"/>
<path d="M47.83 250.07 h-2.20" stroke="#000" stroke-width="0.68"/>
<path d="M47.83 246.35 h-2.20" stroke="#000" stroke-width="0.68"/>
<path d="M47.83 243.07 h-2.20" stroke="#000" stroke-width="0.68"/>
<path d="M47.83 220.81 h-2.20" stroke="#000" stroke-width="0.68"/>
<path d="M47.83 209.51 h-2.20" stroke="#000" stroke-width="0.68"/>
<text transform="translate(13.45 266.30) rotate(-90)" fill="#000"><tspan x="-4.00" y="-0.12" style="font-size:13.00px;font-style:italic">ξ</tspan></text>
<rect x="47.83" y="35.73" width="710.92" height="128.03" fill="none" stroke="#000" stroke-width="0.93"/>
<path d="M190.01 35.73 V163.76" stroke="#000" stroke-width="0.93"/>
<path d="M332.20 35.73 V163.76" stroke="#000" stroke-width="0.93"/>
<path d="M474.38 35.73 V163.76" stroke="#000" stroke-width="0.93"/>
<path d="M616.57 35.73 V163.76" stroke="#000" stroke-width="0.93"/>
<rect x="47.83" y="202.20" width="710.92" height="128.05" fill="none" stroke="#000" stroke-width="0.93"/>
<path d="M190.01 202.20 V330.25" stroke="#000" stroke-width="0.93"/>
<path d="M332.20 202.20 V330.25" stroke="#000" stroke-width="0.93"/>
<path d="M474.38 202.20 V330.25" stroke="#000" stroke-width="0.93"/>
<path d="M616.57 202.20 V330.25" stroke="#000" stroke-width="0.93"/>
</svg>
</body></html>
